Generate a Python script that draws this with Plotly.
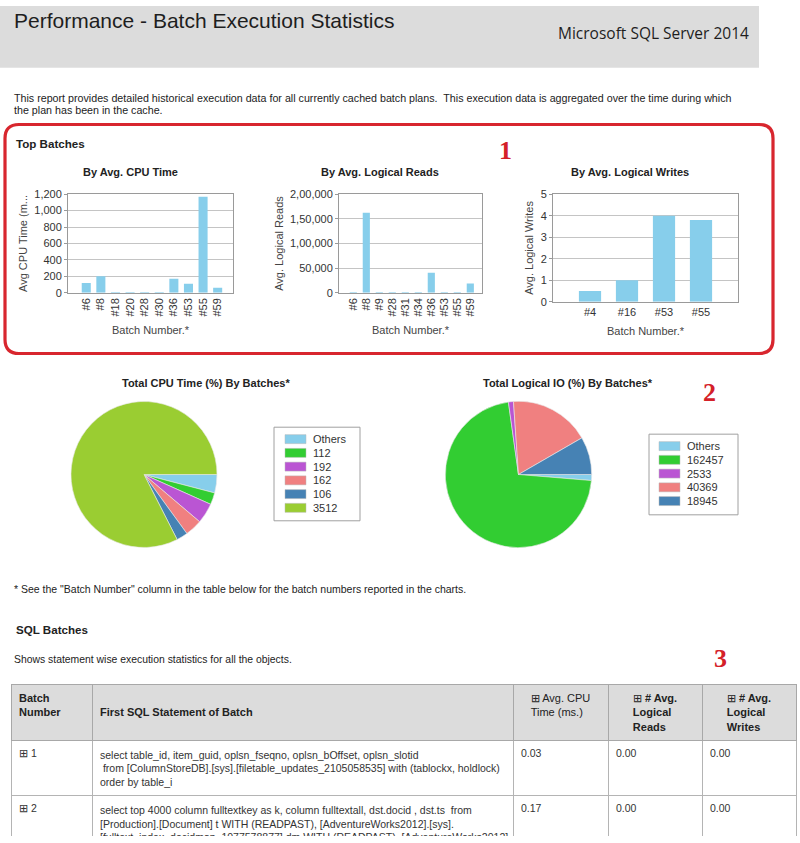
import plotly.graph_objects as go

W, H = 800, 843
def X(px): return px / W
def Y(py):
    p = (py - 5.0) / 0.99
    return 1 - p / H

# ---------------- data ----------------
cpu_batches = ['#6', '#8', '#18', '#20', '#28', '#30', '#36', '#53', '#55', '#59']
cpu_values = [120, 200, 8, 8, 8, 8, 170, 110, 1170, 60]

reads_batches = ['#6', '#8', '#9', '#28', '#31', '#34', '#36', '#53', '#55', '#59']
reads_values = [1500, 162457, 1500, 1500, 1500, 1500, 40369, 1500, 1500, 18945]
reads_tickvals = [0, 50000, 100000, 150000, 200000]
reads_ticktext = ['0', '50,000', '1,00,000', '1,50,000', '2,00,000']

writes_batches = ['#4', '#16', '#53', '#55']
writes_values = [0.5, 1.0, 4.0, 3.8]

cpu_pie_labels = ['Others', '112', '192', '162', '106', '3512']
cpu_pie_values = [173, 112, 192, 162, 106, 3512]
cpu_pie_colors = ['#87ceeb', '#32cd32', '#ba55d3', '#f08080', '#4682b4', '#9acd32']

io_pie_labels = ['Others', '162457', '2533', '40369', '18945']
io_pie_values = [3000, 162457, 2533, 40369, 18945]
io_pie_colors = ['#87ceeb', '#32cd32', '#ba55d3', '#f08080', '#4682b4']

tbl_headers = ['<b>Batch<br>Number</b>', '\u00a0<br><b>First SQL Statement of Batch</b>',
               '\u229e Avg. CPU<br>Time (ms.)', '\u229e <b># Avg.<br>Logical<br>Reads</b>',
               '\u229e <b># Avg.<br>Logical<br>Writes</b>']
tbl_batch = ['\u229e 1', '\u229e 2']
tbl_sql = [
    'select table_id, item_guid, oplsn_fseqno, oplsn_bOffset, oplsn_slotid<br>'
    ' from [ColumnStoreDB].[sys].[filetable_updates_2105058535] with (tablockx, holdlock)<br>'
    'order by table_i',
    'select top 4000 column fulltextkey as k, column fulltextall, dst.docid , dst.ts  from<br>'
    '[Production].[Document] t WITH (READPAST), [AdventureWorks2012].[sys].<br>'
    '[fulltext_index_docidmap_1077578877] dm WITH (READPAST), [AdventureWorks2012].<br>'
    '[sys].[fulltext_index_docidstatus_1077578877] dst WITH (READPAST) where column<br>'
    'fulltextkey = dm.ftkey and dm.docid = dst.docid and dst.status = 0 and dst.ts > @p1 and<br>'
    'dst.ts <= @p2'
]
tbl_cpu = ['0.03', '0.17']
tbl_reads = ['0.00', '0.00']
tbl_writes = ['0.00', '0.00']

# ---------------- style ----------------
FONT = 'Liberation Sans, Arial, sans-serif'
BAR = '#87ceeb'
GRID = '#c4c4c4'
AXL = '#9a9a9a'
TXT = '#333333'

fig = go.Figure()

fig.add_trace(go.Bar(x=cpu_batches, y=cpu_values, xaxis='x', yaxis='y',
                     marker=dict(color=BAR, line=dict(width=0)), width=0.62, showlegend=False))
fig.add_trace(go.Bar(x=reads_batches, y=reads_values, xaxis='x2', yaxis='y2',
                     marker=dict(color=BAR, line=dict(width=0)), width=0.55, showlegend=False))
fig.add_trace(go.Bar(x=writes_batches, y=writes_values, xaxis='x3', yaxis='y3',
                     marker=dict(color=BAR, line=dict(width=0)), width=0.6, showlegend=False))

fig.add_trace(go.Pie(labels=cpu_pie_labels, values=cpu_pie_values, sort=False,
                     direction='clockwise', rotation=90, textinfo='none', hoverinfo='label+percent',
                     marker=dict(colors=cpu_pie_colors, line=dict(color='#e8e8e8', width=0.6)),
                     domain=dict(x=[X(71), X(217)], y=[Y(549), Y(402)]), showlegend=False))
fig.add_trace(go.Pie(labels=io_pie_labels, values=io_pie_values, sort=False,
                     direction='clockwise', rotation=90, textinfo='none', hoverinfo='label+percent',
                     marker=dict(colors=io_pie_colors, line=dict(color='#e8e8e8', width=0.6)),
                     domain=dict(x=[X(445), X(592)], y=[Y(549), Y(402)]), showlegend=False))

fig.add_trace(go.Table(
    domain=dict(x=[X(11), X(796)], y=[0, Y(686)]),
    columnwidth=[81, 421, 95, 94, 94],
    header=dict(values=tbl_headers, fill_color='#dcdcdc', line=dict(color='#a8a8a8', width=1),
                align=['left', 'left', 'center', 'center', 'center'],
                font=dict(family=FONT, size=11, color='#222'), height=54),
    cells=dict(values=[tbl_batch, tbl_sql, tbl_cpu, tbl_reads, tbl_writes],
               fill_color='white', line=dict(color='#b4b4b4', width=1), align='left',
               font=dict(family=FONT, size=10.5, color='#333'), height=40)
))

def xax(dom, rng, angle):
    return dict(domain=[X(dom[0]), X(dom[1])], range=rng, type='category', showgrid=False,
                showline=True, linecolor=AXL, mirror=True, tickangle=angle, ticks='',
                tickfont=dict(family=FONT, size=11, color=TXT), fixedrange=True,
                title=dict(text='Batch Number.*', font=dict(family=FONT, size=11, color='#444'), standoff=10))

def yax(dom, rng, title, **kw):
    d = dict(domain=[Y(dom[1]), Y(dom[0])], range=rng, showgrid=True, gridcolor=GRID, gridwidth=1,
             showline=True, linecolor=AXL, mirror=True, ticks='outside', ticklen=3, tickcolor=AXL,
             zeroline=False, tickfont=dict(family=FONT, size=11, color=TXT), fixedrange=True,
             title=dict(text=title, font=dict(family=FONT, size=11, color='#444'), standoff=4))
    d.update(kw)
    return d

fig.update_layout(
    width=W, height=H, margin=dict(l=0, r=0, t=0, b=0),
    paper_bgcolor='white', plot_bgcolor='white',
    font=dict(family=FONT, color='#222'), showlegend=False,
    xaxis=dict(xax((68, 233), [-1.25, 10.05], -90), anchor='y'),
    yaxis=dict(yax((194, 293), [0, 1200], 'Avg CPU Time (m...', dtick=200, tickformat=','), anchor='x'),
    xaxis2=dict(xax((339, 482), [-1.1, 9.9], -90), anchor='y2'),
    yaxis2=dict(yax((194, 293), [0, 200000], 'Avg. Logical Reads',
                    tickvals=reads_tickvals, ticktext=reads_ticktext), anchor='x2'),
    xaxis3=dict(xax((553, 738), [-1, 4], 0), anchor='y3'),
    yaxis3=dict(yax((194, 302), [0, 5], 'Avg. Logical Writes', dtick=1), anchor='x3'),
)

# ---------------- shapes ----------------
shapes = [dict(type='rect', xref='paper', yref='paper', x0=0, x1=X(759), y0=Y(67), y1=1,
               fillcolor='#dcdcdc', line=dict(width=0), layer='below')]

def rounded(x0, y0, x1, y1, r):
    pts = [('M', x0 + r, y0), ('L', x1 - r, y0), ('Q', x1, y0, x1, y0 + r),
           ('L', x1, y1 - r), ('Q', x1, y1, x1 - r, y1), ('L', x0 + r, y1),
           ('Q', x0, y1, x0, y1 - r), ('L', x0, y0 + r), ('Q', x0, y0, x0 + r, y0)]
    s = ''
    for p in pts:
        c = p[0]
        coords = p[1:]
        vals = []
        for i in range(0, len(coords), 2):
            vals.append('%.5f,%.5f' % (X(coords[i]), Y(coords[i + 1])))
        s += c + ' '.join(vals) + ' '
    return s + 'Z'

shapes.append(dict(type='path', xref='paper', yref='paper', path=rounded(5, 124, 773, 354, 14),
                   line=dict(color='#d8262e', width=3.2), fillcolor='rgba(0,0,0,0)'))

# ---------------- texts ----------------
ann = []
def txt(s, px, py, size=10, color='#222', bold=False, anchor='left', family=FONT):
    ann.append(dict(text=('<b>%s</b>' % s) if bold else s, x=X(px), y=Y(py), xref='paper', yref='paper',
                    xanchor=anchor, yanchor='middle', showarrow=False,
                    font=dict(family=family, size=size, color=color)))

# ---------------- pie legends (from the pie arrays) ----------------
def legend_box(labels, colors, bx0, by0, bx1, by1, first_y, step, sw_x):
    shapes.append(dict(type='rect', xref='paper', yref='paper', x0=X(bx0), x1=X(bx1),
                       y0=Y(by1), y1=Y(by0), line=dict(color='#a0a0a0', width=1),
                       fillcolor='white'))
    for i, (lab, col) in enumerate(zip(labels, colors)):
        cy = first_y + i * step
        shapes.append(dict(type='rect', xref='paper', yref='paper', x0=X(sw_x), x1=X(sw_x + 21),
                           y0=Y(cy + 4.5), y1=Y(cy - 4.5), fillcolor=col,
                           line=dict(color='#b8b8b8', width=0.5)))
        txt(lab, sw_x + 26, cy, size=11, color='#333')

legend_box(cpu_pie_labels, cpu_pie_colors, 274, 428, 360, 522, 440, 13.8, 285)
legend_box(io_pie_labels, io_pie_colors, 649, 435, 738, 516, 447, 13.8, 659)

txt('Performance - Batch Execution Statistics', 12, 20, size=21, color='#1e1e1e')
txt('Microsoft SQL Server 2014', 751, 32, size=15.5, color='#1e1e1e', anchor='right',
    family='Open Sans, Liberation Sans, sans-serif')
txt('This report provides detailed historical execution data for all currently cached batch plans.  '
    'This execution data is aggregated over the time during which', 12, 97, size=10.7)
txt('the plan has been in the cache.', 12, 109.5, size=10.7)
txt('Top Batches', 14, 143, size=11.6, bold=True)
txt('By Avg. CPU Time', 130, 172, size=11, bold=True, anchor='center')
txt('By Avg. Logical Reads', 380, 172, size=11, bold=True, anchor='center')
txt('By Avg. Logical Writes', 630, 172, size=11, bold=True, anchor='center')
txt('Total CPU Time (%) By Batches*', 206, 384, size=11, bold=True, anchor='center')
txt('Total Logical IO (%) By Batches*', 568, 384, size=11, bold=True, anchor='center')
txt('* See the "Batch Number" column in the table below for the batch numbers reported in the charts.',
    12, 591, size=10.5)
txt('SQL Batches', 14, 631, size=11.6, bold=True)
txt('Shows statement wise execution statistics for all the objects.', 12, 661, size=10.4)
for s, px, py in [('1', 505, 150), ('2', 709, 393), ('3', 720, 660)]:
    txt(s, px, py, size=26, color='#d42028', bold=True, anchor='center',
        family='Liberation Serif, DejaVu Serif, serif')

fig.update_layout(shapes=shapes, annotations=ann)
fig.write_html('out.html', config={'displayModeBar': False, 'staticPlot': True},
               post_script="document.body.style.margin='0px';document.body.style.overflow='hidden';")
